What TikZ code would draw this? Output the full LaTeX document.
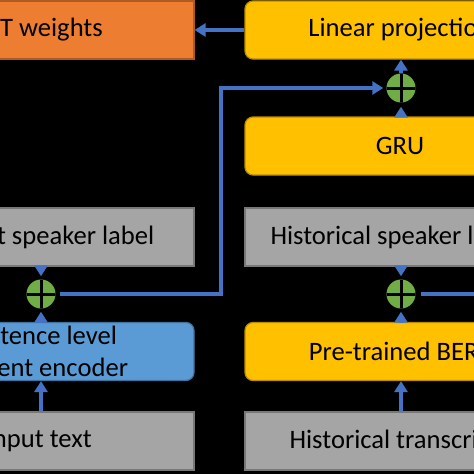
\documentclass[tikz,border=0pt]{standalone}
\usepackage{fontspec}
\setmainfont{Carlito}
\usetikzlibrary{arrows.meta}
\definecolor{corange}{HTML}{ED7D31}
\definecolor{corangeb}{HTML}{AE5A21}
\definecolor{cgold}{HTML}{FFC000}
\definecolor{cgoldb}{HTML}{BC8C00}
\definecolor{cgrey}{HTML}{A5A5A5}
\definecolor{cgreyb}{HTML}{787878}
\definecolor{cbluebox}{HTML}{5B9BD5}
\definecolor{cblueboxb}{HTML}{41719C}
\definecolor{cline}{HTML}{4472C4}
\definecolor{cgreen}{HTML}{70AD47}
\begin{document}
\begin{tikzpicture}[x=1pt,y=-1pt,
  lbl/.style={font=\fontsize{26.6}{32}\selectfont, text=black, align=center},
  box/.style={lbl, line width=1.2pt, minimum height=58pt, inner sep=0pt},
  lcol/.style={minimum width=310pt},
  rcol/.style={minimum width=310pt},
  gcol/.style={minimum width=300pt},
  orangebox/.style={box, fill=corange, draw=corangeb},
  goldbox/.style={box, fill=cgold, draw=cgoldb, rounded corners=8pt},
  greybox/.style={box, fill=cgrey, draw=cgreyb},
  bluebox/.style={box, fill=cbluebox, draw=cblueboxb, rounded corners=8pt},
  oplus/.style={circle, fill=cgreen, minimum size=29pt, inner sep=0pt,
    path picture={\draw[black, line width=3pt]
      (path picture bounding box.north) -- (path picture bounding box.south)
      (path picture bounding box.west) -- (path picture bounding box.east);}},
  conn/.style={draw=cline, line width=4pt, -{Triangle[width=13pt,length=11pt]}},
  plain/.style={draw=cline, line width=4pt}]
\useasboundingbox (0,0) rectangle (474,474);
\clip (0,0) rectangle (474,474);
\fill[black] (0,0) rectangle (474,474);

% left column
\node[orangebox, lcol] (wts) at (39,30) {};
\node[lbl, anchor=east, inner sep=0pt] (wtstext) at (103,30) {BERT weights};
\node[greybox, lcol] (cur) at (39,237) {Current speaker label};
\node[bluebox, lcol] (enc) at (39,351.5) {Sentence level\\content encoder};
\node[greybox, lcol] (inp) at (39,441) {Input text};
\node[oplus] (opL) at (41,294) {};

% right column
\node[goldbox, rcol] (lin) at (400,30) {Linear projection};
\node[goldbox, rcol] (gru) at (400,146) {GRU};
\node[greybox, gcol] (hsp) at (395,237) {Historical speaker label};
\node[goldbox, rcol] (bert) at (400,351.5) {Pre-trained BERT};
\node[greybox, gcol] (htr) at (395,441) {Historical transcript};
\node[oplus] (opT) at (401,88) {};
\node[oplus] (opR) at (401,294) {};

\coordinate (turn) at (221,88);
\coordinate (outR) at (480,294);

% connectors
\draw[conn] (lin.west) -- (wts.east);
\draw[conn] (opT.north) -- (opT |- lin.south);
\draw[conn] (gru.north -| opT) -- ([yshift=-4pt]opT.south);
\draw[conn] ([xshift=4pt]opL.east) -| (turn) -- ([xshift=-3pt]opT.west);

\draw[conn, shorten >=3pt] (cur.south -| opL) -- (opL.north);
\draw[conn, shorten >=3pt] (enc.north -| opL) -- (opL.south);
\draw[conn] (inp.north -| opL) -- (enc.south -| opL);

\draw[conn, shorten >=3pt] (hsp.south -| opR) -- (opR.north);
\draw[conn, shorten >=3pt] (bert.north -| opR) -- (opR.south);
\draw[conn] (htr.north -| opR) -- (bert.south -| opR);
\draw[plain] ([xshift=5pt]opR.east) -- (outR);
\end{tikzpicture}
\end{document}
